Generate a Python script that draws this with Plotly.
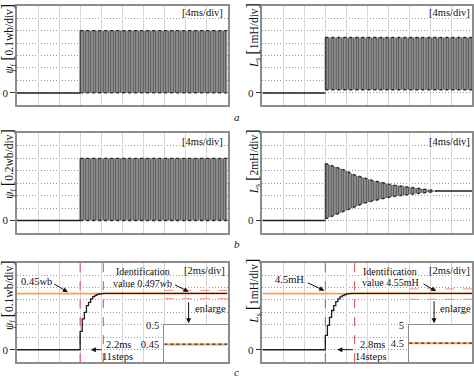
import plotly.graph_objects as go

W, H = 474, 378
FONT = "Liberation Serif"

# ---------------- data ----------------
# panels a / b : time in ms (4 ms/div)
t_pre = [0, 12]
zero_pre = [0, 0]
t_osc = [12, 40]
psi_a_hi = [0.50, 0.50]          # wb
psi_a_lo = [0.0, 0.0]
L_a_hi = [4.45, 4.45]            # mH
L_a_lo = [0.25, 0.25]
psi_b_hi = [1.0, 1.0]            # wb
psi_b_lo = [0.0, 0.0]
t_env_b = [12, 14, 16, 17.3, 19.2, 21, 22.9, 24.8, 26.7, 28.6, 30.5, 32.4, 33.4]
L_b_hi = [9.2, 8.6, 8.0, 7.4, 6.9, 6.45, 6.1, 5.7, 5.5, 5.3, 5.1, 4.95, 4.76]
L_b_lo = [0.25, 0.95, 1.6, 2.1, 2.75, 3.15, 3.55, 3.85, 4.05, 4.3, 4.45, 4.6, 4.76]
t_tail_b = [33.4, 40]
L_b_tail = [4.76, 4.76]

# panel c : time in ms (2 ms/div)
t_psi_c = [0, 6.0, 6.0, 6.2, 6.4, 6.6, 6.8, 7.0, 7.2, 7.4, 7.6, 7.8, 8.0, 8.2, 20]
psi_c = [0, 0, 0.147, 0.248, 0.30, 0.355, 0.38, 0.408, 0.427, 0.437, 0.445, 0.449, 0.451, 0.452, 0.452]
t_L_c = [0, 6.0, 6.0, 6.2, 6.4, 6.6, 6.8, 7.0, 7.2, 7.4, 7.6, 7.8, 8.0, 8.2, 8.4, 8.6, 8.8, 20]
L_c = [0, 0, 1.15, 1.95, 2.6, 3.15, 3.55, 3.87, 4.08, 4.24, 4.35, 4.43, 4.48, 4.5, 4.52, 4.52, 4.52, 4.52]
psi_ref = 0.45
L_ref = 4.5
psi_marks = [6.0, 8.2]
L_marks = [6.0, 8.8]
psi_box = [0.41, 0.476]
L_box = [4.05, 4.89]
t_zoom = [14, 20]

# ---------------- layout helpers ----------------
def px(x):
    return x / W

def py(y):
    return 1 - y / H

XL = [px(17), px(228)]
XR = [px(263), px(473)]
YA = [py(101.7), py(0.7)]
YB = [py(231), py(130.2)]
YC = [py(362), py(261)]

FRAME = '#8c8c8c'
GRIDDOT = '1px,2px'
fig = go.Figure()
layout_axes = {}

def main_axes(n, xdom, ydom, xmax, xdiv, ydiv):
    sfx = '' if n == 1 else str(n)
    layout_axes['xaxis' + sfx] = dict(
        domain=xdom, range=[0, xmax], dtick=xdiv, tick0=0, showgrid=True,
        gridcolor='#d6d6d6', gridwidth=1, showline=True, mirror=True,
        linecolor=FRAME, linewidth=1.5, showticklabels=False, ticks='',
        zeroline=False, anchor='y' + sfx, fixedrange=True)
    layout_axes['yaxis' + sfx] = dict(
        domain=ydom, range=[-ydiv, 7 * ydiv], tickvals=[0], ticktext=['0'],
        ticks='outside', ticklen=5, tickcolor='#333', tickwidth=1,
        showgrid=True, gridcolor='#9a9a9a', griddash=GRIDDOT, gridwidth=1,
        minor=dict(tickmode='array', tickvals=[k * ydiv for k in range(1, 7)],
                   showgrid=True, gridcolor='#9a9a9a', griddash=GRIDDOT,
                   gridwidth=1, ticks=''),
        showline=True, mirror=True, linecolor=FRAME, linewidth=1.5,
        zeroline=False, anchor='x' + sfx, fixedrange=True,
        tickfont=dict(family=FONT, size=11, color='#222'))

main_axes(1, XL, YA, 40, 4, 0.1)
main_axes(2, XR, YA, 40, 4, 1.0)
main_axes(3, XL, YB, 40, 4, 0.2)
main_axes(4, XR, YB, 40, 4, 2.0)
main_axes(5, XL, YC, 20, 2, 0.1)
main_axes(6, XR, YC, 20, 2, 1.0)

# insets (enlarge boxes)
def inset_axes(n, xdom_main, ydom_main, yr, tv, tt):
    sfx = str(n)
    w = xdom_main[1] - xdom_main[0]
    h = ydom_main[1] - ydom_main[0]
    layout_axes['xaxis' + sfx] = dict(
        domain=[xdom_main[0] + 0.7 * w, xdom_main[1]], range=t_zoom,
        showgrid=False, showline=True, mirror=True, linecolor=FRAME,
        linewidth=1.2, showticklabels=False, ticks='', zeroline=False,
        anchor='y' + sfx, fixedrange=True)
    layout_axes['yaxis' + sfx] = dict(
        domain=[ydom_main[0], ydom_main[0] + 3 / 8 * h], range=yr,
        tickvals=tv, ticktext=tt, ticks='', showgrid=False, showline=True,
        mirror=True, linecolor=FRAME, linewidth=1.2, zeroline=False,
        anchor='x' + sfx, fixedrange=True, ticklabelstandoff=2,
        tickfont=dict(family=FONT, size=10.5, color='#222'))

inset_axes(7, XL, YC, [0.4055, 0.5], [0.45, 0.5], ['0.45', '0.5'])
inset_axes(8, XR, YC, [3.984, 5.0], [4.5, 5.0], ['4.5', '5'])

# ---------------- traces ----------------
BLACK = '#1e1e1e'
ORANGE = '#f2a35a'
RED = '#e0404a'
PINK = '#f28c8c'
PATTERN = dict(shape='|', size=2.5, solidity=0.5, fgcolor='#505050', bgcolor='#a4a4a4', fillmode='replace')

def line(x, y, n, color=BLACK, width=1.5, dash='solid', shape='linear'):
    sfx = '' if n == 1 else str(n)
    fig.add_trace(go.Scatter(x=x, y=y, mode='lines', xaxis='x' + sfx, yaxis='y' + sfx,
                             line=dict(color=color, width=width, dash=dash, shape=shape),
                             hoverinfo='skip', showlegend=False))

def band(x, hi, lo, n):
    sfx = '' if n == 1 else str(n)
    fig.add_trace(go.Scatter(x=x, y=hi, mode='lines', xaxis='x' + sfx, yaxis='y' + sfx,
                             line=dict(color='#2a2a2a', width=1.4, dash='dot'),
                             hoverinfo='skip', showlegend=False))
    fig.add_trace(go.Scatter(x=x, y=lo, mode='lines', xaxis='x' + sfx, yaxis='y' + sfx,
                             line=dict(color='#2a2a2a', width=1.4, dash='dot'),
                             fill='tonexty', fillcolor='#a4a4a4', fillpattern=PATTERN,
                             hoverinfo='skip', showlegend=False))
    # vertical rising edge at the switch-on instant
    line([x[0], x[0]], [lo[0], hi[0]], n, color='#3a3a3a', width=1.2)

# a
line(t_pre, zero_pre, 1)
band(t_osc, psi_a_hi, psi_a_lo, 1)
line(t_pre, zero_pre, 2)
band(t_osc, L_a_hi, L_a_lo, 2)
# b
line(t_pre, zero_pre, 3)
band(t_osc, psi_b_hi, psi_b_lo, 3)
line(t_pre, zero_pre, 4)
band(t_env_b, L_b_hi, L_b_lo, 4)
line(t_tail_b, L_b_tail, 4)

# c left
line([0, 20], [psi_ref, psi_ref], 5, color=ORANGE, width=1.8)
for t in psi_marks:
    line([t, t], [-0.1, 0.7], 5, color=RED, width=1, dash='dash')
for v in psi_box:
    line(t_zoom, [v, v], 5, color=PINK, width=1, dash='dash')
line(t_psi_c, psi_c, 5, width=1.3, shape='hv')
# c right
line([0, 20], [L_ref, L_ref], 6, color=ORANGE, width=1.8)
for t in L_marks:
    line([t, t], [-1, 7], 6, color=RED, width=1, dash='dash')
for v in L_box:
    line(t_zoom, [v, v], 6, color=PINK, width=1, dash='dash')
line(t_L_c, L_c, 6, width=1.3, shape='hv')
# insets
line(t_zoom, [psi_ref, psi_ref], 7, color=ORANGE, width=2)
line(t_zoom, [psi_c[-1] - 0.0008, psi_c[-1] - 0.0008], 7, color='#3a2a1a', width=1.2, dash='dot')
line(t_zoom, [L_ref, L_ref], 8, color=ORANGE, width=2)
line(t_zoom, [L_ref + 0.005, L_ref + 0.005], 8, color='#3a2a1a', width=1.2, dash='dot')

# white background for insets (covers main grid)
shapes = [
    dict(type='rect', xref='x5', yref='y5', x0=t_zoom[0], x1=t_zoom[1], y0=-0.1, y1=0.2,
         fillcolor='white', line=dict(width=0), layer='between'),
    dict(type='rect', xref='x6', yref='y6', x0=t_zoom[0], x1=t_zoom[1], y0=-1, y1=2,
         fillcolor='white', line=dict(width=0), layer='between'),
]

# ---------------- annotations ----------------
ann = []

def text(x, y, s, size=10.5, angle=0, italic=False, xanchor='center'):
    if italic:
        s = '<i>' + s + '</i>'
    ann.append(dict(x=px(x), y=py(y), xref='paper', yref='paper', text=s, showarrow=False,
                    xanchor=xanchor, yanchor='middle', textangle=angle,
                    font=dict(family=FONT, size=size, color='#111')))

def arrow(x0, y0, x1, y1):
    ann.append(dict(x=px(x1), y=py(y1), xref='paper', yref='paper', text='',
                    showarrow=True, ax=x0 - x1, ay=y0 - y1, axref='pixel', ayref='pixel',
                    arrowhead=2, arrowsize=1, arrowwidth=1, arrowcolor='#111', standoff=0,
                    startstandoff=0))

BR = '<span style="font-size:16px">[</span>'
BRC = '<span style="font-size:16px">]</span>'
text(8, 34, '<i>ψ</i><sub>f</sub> ' + BR + '0.1wb/div' + BRC, size=11.5, angle=-90)
text(253, 31, '<i>L</i><sub>s</sub> ' + BR + '1mH/div' + BRC, size=11.5, angle=-90)
text(8, 161, '<i>ψ</i><sub>f</sub> ' + BR + '0.2wb/div' + BRC, size=11.5, angle=-90)
text(253, 159, '<i>L</i><sub>s</sub> ' + BR + '2mH/div' + BRC, size=11.5, angle=-90)
text(8, 294, '<i>ψ</i><sub>f</sub> ' + BR + '0.1wb/div' + BRC, size=11.5, angle=-90)
text(254, 290, '<i>L</i><sub>s</sub> ' + BR + '1mH/div' + BRC, size=11.5, angle=-90)

for (x, y) in [(203, 8), (450, 8), (203, 138), (450, 138)]:
    text(x, y, '[4ms/div]')
text(205, 269, '[2ms/div]')
text(450, 269, '[2ms/div]')

text(237, 113, 'a', size=11, italic=True)
text(237, 242, 'b', size=11, italic=True)
text(237, 372, 'c', size=11, italic=True)

# c left notes
text(37, 280, '0.45wb')
arrow(53, 282, 68, 291)
text(143, 270, 'Identification', size=10)
text(143, 282, 'value 0.497wb', size=10)
arrow(174, 283, 189, 290.5)
arrow(189, 300, 189, 322.5)
text(211, 308, 'enlarge')
text(119, 344, '2.2ms')
text(118, 356, '11steps')
arrow(103, 349.3, 91, 349.3)

# c right notes
text(290, 278, '4.5mH')
arrow(307, 281, 325, 289.5)
text(391, 270, 'Identification', size=10)
text(391, 281, 'value 4.55mH', size=10)
arrow(423, 282, 437, 290)
arrow(435, 299, 435, 322.5)
text(456, 308, 'enlarge')
text(373, 344, '2.8ms')
text(372, 356, '14steps')
arrow(355, 349.3, 338, 349.3)

fig.update_layout(
    width=W, height=H, margin=dict(l=0, r=0, t=0, b=0),
    paper_bgcolor='white', plot_bgcolor='white', showlegend=False,
    annotations=ann, shapes=shapes,
    font=dict(family=FONT, size=10, color='#111'),
    **layout_axes)

fig.write_html("out.html", config={'displayModeBar': False},
               post_script="document.body.style.margin='0';document.body.style.padding='0';")
